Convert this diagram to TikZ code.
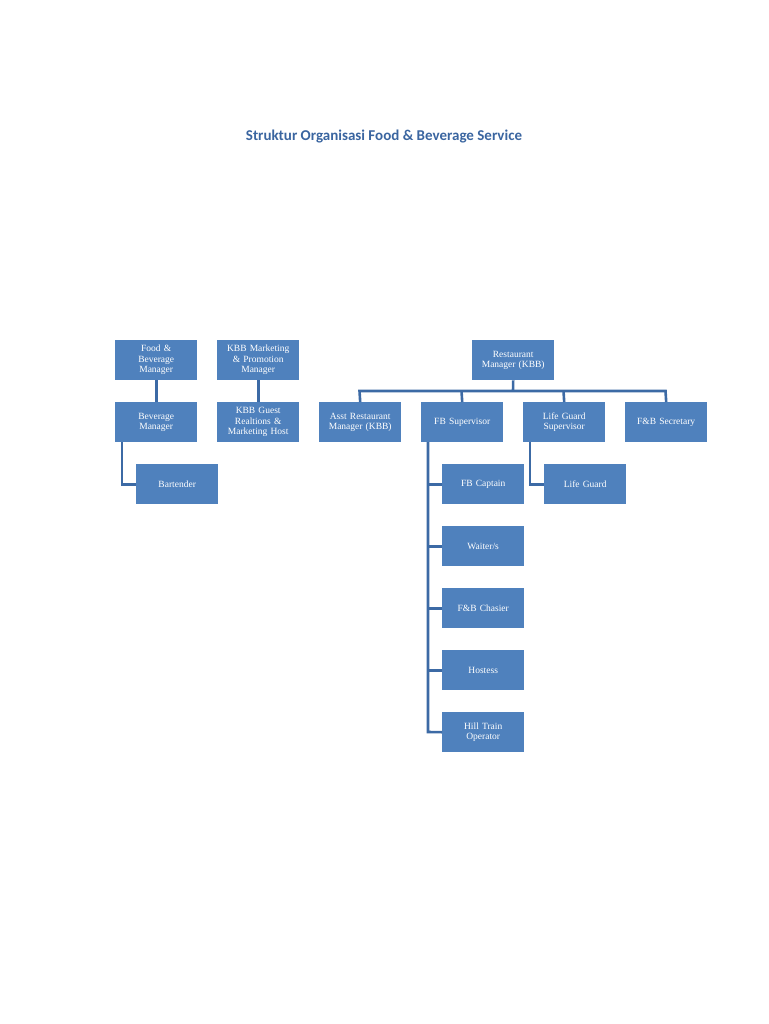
\documentclass[tikz,border=0pt]{standalone}
\usepackage{fontspec}
\setmainfont{Liberation Serif}
\newfontfamily\titlefont{Carlito}
\definecolor{boxc}{HTML}{4F81BD}
\definecolor{linec}{HTML}{3C6AA5}
\definecolor{titlec}{HTML}{3A65A0}
\begin{document}
\begin{tikzpicture}[x=1pt,y=-1pt,
 bx/.style={fill=boxc,text=white,minimum width=81pt,minimum height=40pt,inner sep=1pt,align=center,font=\fontsize{9.5}{10.5}\selectfont,anchor=north west,text width=80pt},
 ln/.style={draw=linec,line width=2.6pt}]
\useasboundingbox (0,0) rectangle (768,1024);
\node[font=\titlefont\bfseries\fontsize{15}{18}\selectfont,text=titlec] (title) at (384,137) {Struktur Organisasi Food \& Beverage Service};
\node[bx] (fbm) at (115,340) {Food \&\\Beverage\\Manager};
\node[bx] (kbm) at (217,340) {KBB Marketing\\\& Promotion\\Manager};
\node[bx] (bm) at (115,402) {Beverage\\Manager};
\node[bx] (kg) at (217,402) {KBB Guest\\Realtions \&\\Marketing Host};
\node[bx] (bt) at (136,464) {Bartender};
\node[bx] (rm) at (472,340) {Restaurant\\Manager (KBB)};
\node[bx] (ar) at (319,402) {Asst Restaurant\\Manager (KBB)};
\node[bx] (fs) at (421,402) {FB Supervisor};
\node[bx] (lgs) at (523,402) {Life Guard\\Supervisor};
\node[bx] (sec) at (625,402) {F\&B Secretary};
\node[bx] (cap) at (442,464) {FB Captain};
\node[bx] (wt) at (442,526) {Waiter/s};
\node[bx] (ch) at (442,588) {F\&B Chasier};
\node[bx] (ho) at (442,650) {Hostess};
\node[bx] (ht) at (442,712) {Hill Train\\Operator};
\node[bx] (lg) at (544,464) {Life Guard};
\draw[ln] (fbm.south) -- (bm.north);
\draw[ln] (kbm.south) -- (kg.north);
\draw[ln] (122,442) |- (bt.west);
\draw[ln] (530,442) |- (lg.west);
\draw[ln] (rm.south) -- (513,391);
\draw[ln] (ar.north) -- (359.5,391) -- (665.5,391) -- (sec.north);
\draw[ln] (fs.north) -- (461.5,391);
\draw[ln] (lgs.north) -- (563.5,391);
\draw[ln] (428,442) -- (428,732) -- (ht.west);
\foreach \n in {cap,wt,ch,ho} \draw[ln] (428,0|-\n.west) -- (\n.west);
\end{tikzpicture}
\end{document}
